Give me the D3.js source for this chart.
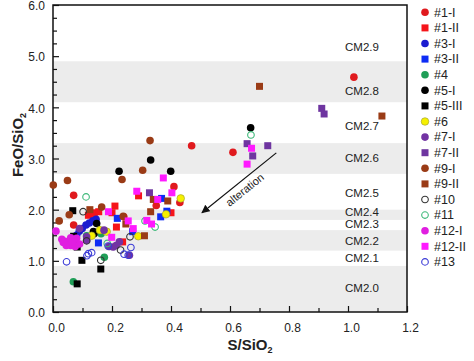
<!DOCTYPE html>
<html>
<head>
<meta charset="utf-8"/>
<style>
  body { margin: 0; background: #fff; }
  svg text { font-family: "Liberation Sans", Arial, sans-serif; fill: #222; }
</style>
</head>
<body>
<svg id="chart" width="474" height="361"></svg>
<script src="https://d3js.org/d3.v7.min.js"></script>
<script>
// --- data ---
const xTicks = [0.0, 0.2, 0.4, 0.6, 0.8, 1.0, 1.2];
const yTicks = [0.0, 1.0, 2.0, 3.0, 4.0, 5.0, 6.0];

// CM subtype bands: name, lower, upper, label value, shaded
const bandNames  = ["CM2.0", "CM2.1", "CM2.2", "CM2.3", "CM2.4", "CM2.5", "CM2.6", "CM2.7", "CM2.8", "CM2.9"];
const bandLow    = [0.0, 0.9, 1.2, 1.6, 1.8, 2.0, 2.7, 3.3, 4.1, 4.9];
const bandHigh   = [0.9, 1.2, 1.6, 1.8, 2.0, 2.7, 3.3, 4.1, 4.9, 6.0];
const bandLabelY = [0.45, 1.03, 1.37, 1.695, 1.935, 2.30, 3.00, 3.62, 4.30, 5.16];
const bandShaded = [true, false, true, false, true, false, true, false, true, false];

const seriesNames = ["#1-I", "#1-II", "#3-I", "#3-II", "#4", "#5-I", "#5-III", "#6",
                     "#7-I", "#7-II", "#9-I", "#9-II", "#10", "#11", "#12-I", "#12-II", "#13"];

const s1I   = [[1.02,4.59],[0.61,3.12],[0.47,3.25],[0.41,2.45],[0.43,2.14],[0.35,2.08],[0.07,2.28],[0.07,1.70],[0.24,1.86]];
const s1II  = [[0.12,1.89],[0.13,1.92],[0.14,1.94],[0.155,1.96],[0.21,2.07],[0.20,1.94],[0.215,1.66],[0.29,2.27],[0.40,1.94],[0.236,1.37]];
const s3I   = [[0.08,1.50],[0.089,1.58],[0.099,1.63],[0.112,1.70],[0.123,1.74],[0.135,1.78],[0.146,1.81]];
const s3II  = [[0.218,1.83],[0.27,1.57],[0.368,2.22],[0.365,1.86],[0.386,1.97],[0.154,1.35]];
const s4    = [[0.069,0.59],[0.174,1.07],[0.163,1.53],[0.114,1.49]];
const s5I   = [[0.67,3.60],[0.331,2.97],[0.224,2.75],[0.399,2.75],[0.148,1.73],[0.137,1.57],[0.139,1.53]];
const s5III = [[0.067,1.98],[0.082,1.32],[0.082,1.27],[0.098,1.01],[0.162,0.84],[0.082,0.55],[0.07,1.48]];
const s6    = [[0.159,1.60],[0.182,1.57],[0.131,1.49],[0.289,1.48],[0.383,1.91],[0.433,2.22]];
const s7I   = [[0.09,1.63],[0.114,1.47],[0.114,1.40],[0.173,1.60],[0.225,1.37],[0.204,1.27],[0.19,1.28],[0.214,1.30],[0.259,1.11]];
const s7II  = [[0.911,3.98],[0.919,3.87],[0.658,3.29],[0.728,3.25],[0.677,3.05],[0.327,2.33]];
const s9I   = [[0.329,3.35],[0.304,2.77],[0.049,2.57],[0.234,2.59],[0.001,2.48],[0.021,1.78],[0.055,1.90],[0.165,2.05],[0.238,1.87]];
const s9II  = [[0.70,4.41],[1.115,3.83],[0.125,2.00],[0.34,2.20],[0.389,2.17],[0.331,1.96],[0.247,1.72],[0.31,1.49]];
const s10   = [[0.102,1.96],[0.261,1.47],[0.229,1.21],[0.162,1.01],[0.114,1.39]];
const s11   = [[0.671,3.46],[0.112,2.25],[0.312,1.78],[0.346,1.66],[0.184,1.34]];
const s12I  = [[0.01,1.58],[0.03,1.42],[0.04,1.38],[0.05,1.35],[0.06,1.30],[0.07,1.40],[0.08,1.44],[0.06,1.45],
               [0.045,1.30],[0.075,1.28],[0.09,1.33],[0.035,1.36],[0.065,1.37]];
const s12II = [[0.673,3.20],[0.658,2.89],[0.374,2.62],[0.284,2.36],[0.403,2.33],[0.355,2.20],[0.188,1.96],
               [0.255,1.78],[0.272,1.63],[0.318,1.79],[0.334,1.72],[0.199,1.46]];
const s13   = [[0.046,0.98],[0.12,1.14],[0.131,1.16],[0.115,1.10],[0.241,1.13],[0.255,1.11],[0.264,1.26],[0.187,1.29]];

// alteration arrow, from / to in data units
const arrowFrom = [0.757, 3.11];
const arrowTo   = [0.505, 1.94];

// --- styling ---
const seriesData   = [s1I, s1II, s3I, s3II, s4, s5I, s5III, s6, s7I, s7II, s9I, s9II, s10, s11, s12I, s12II, s13];
const seriesShape  = ["c","s","c","s","c","c","s","c","c","s","c","s","o","o","c","s","o"];
const seriesColor  = ["#e01a1e","#f5141a","#1c1cd0","#0d2cf5","#1f9e57","#000000","#000000","#f5f000",
                      "#7233a3","#6e35a0","#9a3b16","#9a3b16","#333333","#3cb878","#e01ee0","#ff1aff","#3a3ad6"];

const svg = d3.select("#chart");
const mLeft = 53, mRight = 407, mTop = 5, mBottom = 312;

const x = d3.scaleLinear().domain([0, 1.2]).range([mLeft, mRight]);
const y = d3.scaleLinear().domain([0, 6]).range([mBottom, mTop]);

// bands
const bands = bandNames.map((n, i) => ({name: n, lo: bandLow[i], hi: bandHigh[i], ly: bandLabelY[i], shade: bandShaded[i]}));
svg.append("g").selectAll("rect")
  .data(bands.filter(d => d.shade))
  .join("rect")
  .attr("x", mLeft).attr("width", mRight - mLeft)
  .attr("y", d => y(d.hi)).attr("height", d => y(d.lo) - y(d.hi))
  .attr("fill", "#ececec");

svg.append("g").selectAll("text")
  .data(bands)
  .join("text")
  .attr("x", 362).attr("y", d => y(d.ly))
  .attr("text-anchor", "middle").attr("dominant-baseline", "middle")
  .attr("font-size", 11.5)
  .text(d => d.name);

// axes with inward ticks
const yMinor = d3.range(0, 6.001, 0.25).filter(v => Math.abs(v - Math.round(v)) > 1e-6);
const xMinor = d3.range(0, 1.2001, 0.1).filter(v => !xTicks.some(t => Math.abs(t - v) < 1e-6));

svg.append("g")
  .attr("transform", `translate(${mLeft},0)`)
  .call(d3.axisLeft(y).tickValues(yMinor).tickSize(-4).tickFormat(""))
  .call(g => g.select(".domain").remove());
const yAx = svg.append("g")
  .attr("transform", `translate(${mLeft},0)`)
  .call(d3.axisLeft(y).tickValues(yTicks).tickSize(-6).tickPadding(8).tickFormat(d3.format(".1f")));
yAx.select(".domain").remove();
yAx.selectAll("text").attr("font-size", 12).attr("fill", "#222").attr("font-family", null).attr("dy", "0.4em");

svg.append("g")
  .attr("transform", `translate(0,${mBottom})`)
  .call(d3.axisBottom(x).tickValues(xMinor).tickSize(-4).tickFormat(""))
  .call(g => g.select(".domain").remove());
const xAx = svg.append("g")
  .attr("transform", `translate(0,${mBottom})`)
  .call(d3.axisBottom(x).tickValues(xTicks).tickSize(-6).tickPadding(11).tickFormat(d3.format(".1f")));
xAx.select(".domain").remove();
xAx.selectAll("text").attr("font-size", 12).attr("fill", "#222").attr("font-family", null).attr("dx", 3);

svg.selectAll(".tick line").attr("stroke", "#111").attr("stroke-width", 1.2);

// frame
svg.append("rect")
  .attr("x", mLeft).attr("y", mTop).attr("width", mRight - mLeft).attr("height", mBottom - mTop)
  .attr("fill", "none").attr("stroke", "#111").attr("stroke-width", 1.5);

// axis titles
const xt = svg.append("text").attr("x", 250).attr("y", 350).attr("text-anchor", "middle")
  .attr("font-size", 15).attr("font-weight", "bold");
xt.append("tspan").text("S/SiO");
xt.append("tspan").attr("font-size", 9).attr("dy", 3).text("2");

const yt = svg.append("text").attr("transform", "translate(23,145) rotate(-90)").attr("text-anchor", "middle")
  .attr("font-size", 15).attr("font-weight", "bold");
yt.append("tspan").text("FeO/SiO");
yt.append("tspan").attr("font-size", 9).attr("dy", 3).text("2");

// arrow
svg.append("defs").append("marker")
  .attr("id", "head").attr("viewBox", "0 0 10 10").attr("refX", 9).attr("refY", 5)
  .attr("markerWidth", 7).attr("markerHeight", 7).attr("orient", "auto")
  .append("path").attr("d", "M0,0 L10,5 L0,10 z").attr("fill", "#111");
svg.append("line")
  .attr("x1", x(arrowFrom[0])).attr("y1", y(arrowFrom[1]))
  .attr("x2", x(arrowTo[0])).attr("y2", y(arrowTo[1]))
  .attr("stroke", "#111").attr("stroke-width", 1.2).attr("marker-end", "url(#head)");
const ang = Math.atan2(y(arrowFrom[1]) - y(arrowTo[1]), x(arrowFrom[0]) - x(arrowTo[0])) * 180 / Math.PI;
const mx = (x(arrowFrom[0]) + x(arrowTo[0])) / 2, my = (y(arrowFrom[1]) + y(arrowTo[1])) / 2;
svg.append("text")
  .attr("transform", `translate(${mx + 8},${my + 10}) rotate(${ang})`)
  .attr("text-anchor", "middle").attr("font-size", 11).text("alteration");

// points
function drawMarker(sel, shape, color) {
  if (shape === "s") {
    sel.append("rect").attr("x", -3.5).attr("y", -3.5).attr("width", 7).attr("height", 7).attr("fill", color);
  } else if (shape === "o") {
    sel.append("circle").attr("r", 3.3).attr("fill", "none").attr("stroke", color).attr("stroke-width", 1.1);
  } else {
    sel.append("circle").attr("r", 3.8).attr("fill", color)
      .attr("stroke", color === "#f5f000" ? "#9a9a30" : "none").attr("stroke-width", 0.6);
  }
}

const plot = svg.append("g");
seriesData.forEach((pts, i) => {
  plot.append("g").selectAll("g")
    .data(pts)
    .join("g")
    .attr("transform", d => `translate(${x(d[0])},${y(d[1])})`)
    .each(function() { drawMarker(d3.select(this), seriesShape[i], seriesColor[i]); });
});

// legend
const legend = svg.append("g").selectAll("g")
  .data(seriesNames)
  .join("g")
  .attr("transform", (d, i) => `translate(425,${12.3 + i * 15.6})`);
legend.each(function(d, i) { drawMarker(d3.select(this), seriesShape[i], seriesColor[i]); });
legend.append("text").attr("x", 9).attr("dy", "0.35em").attr("font-size", 12.5).text(d => d);
</script>
</body>
</html>
